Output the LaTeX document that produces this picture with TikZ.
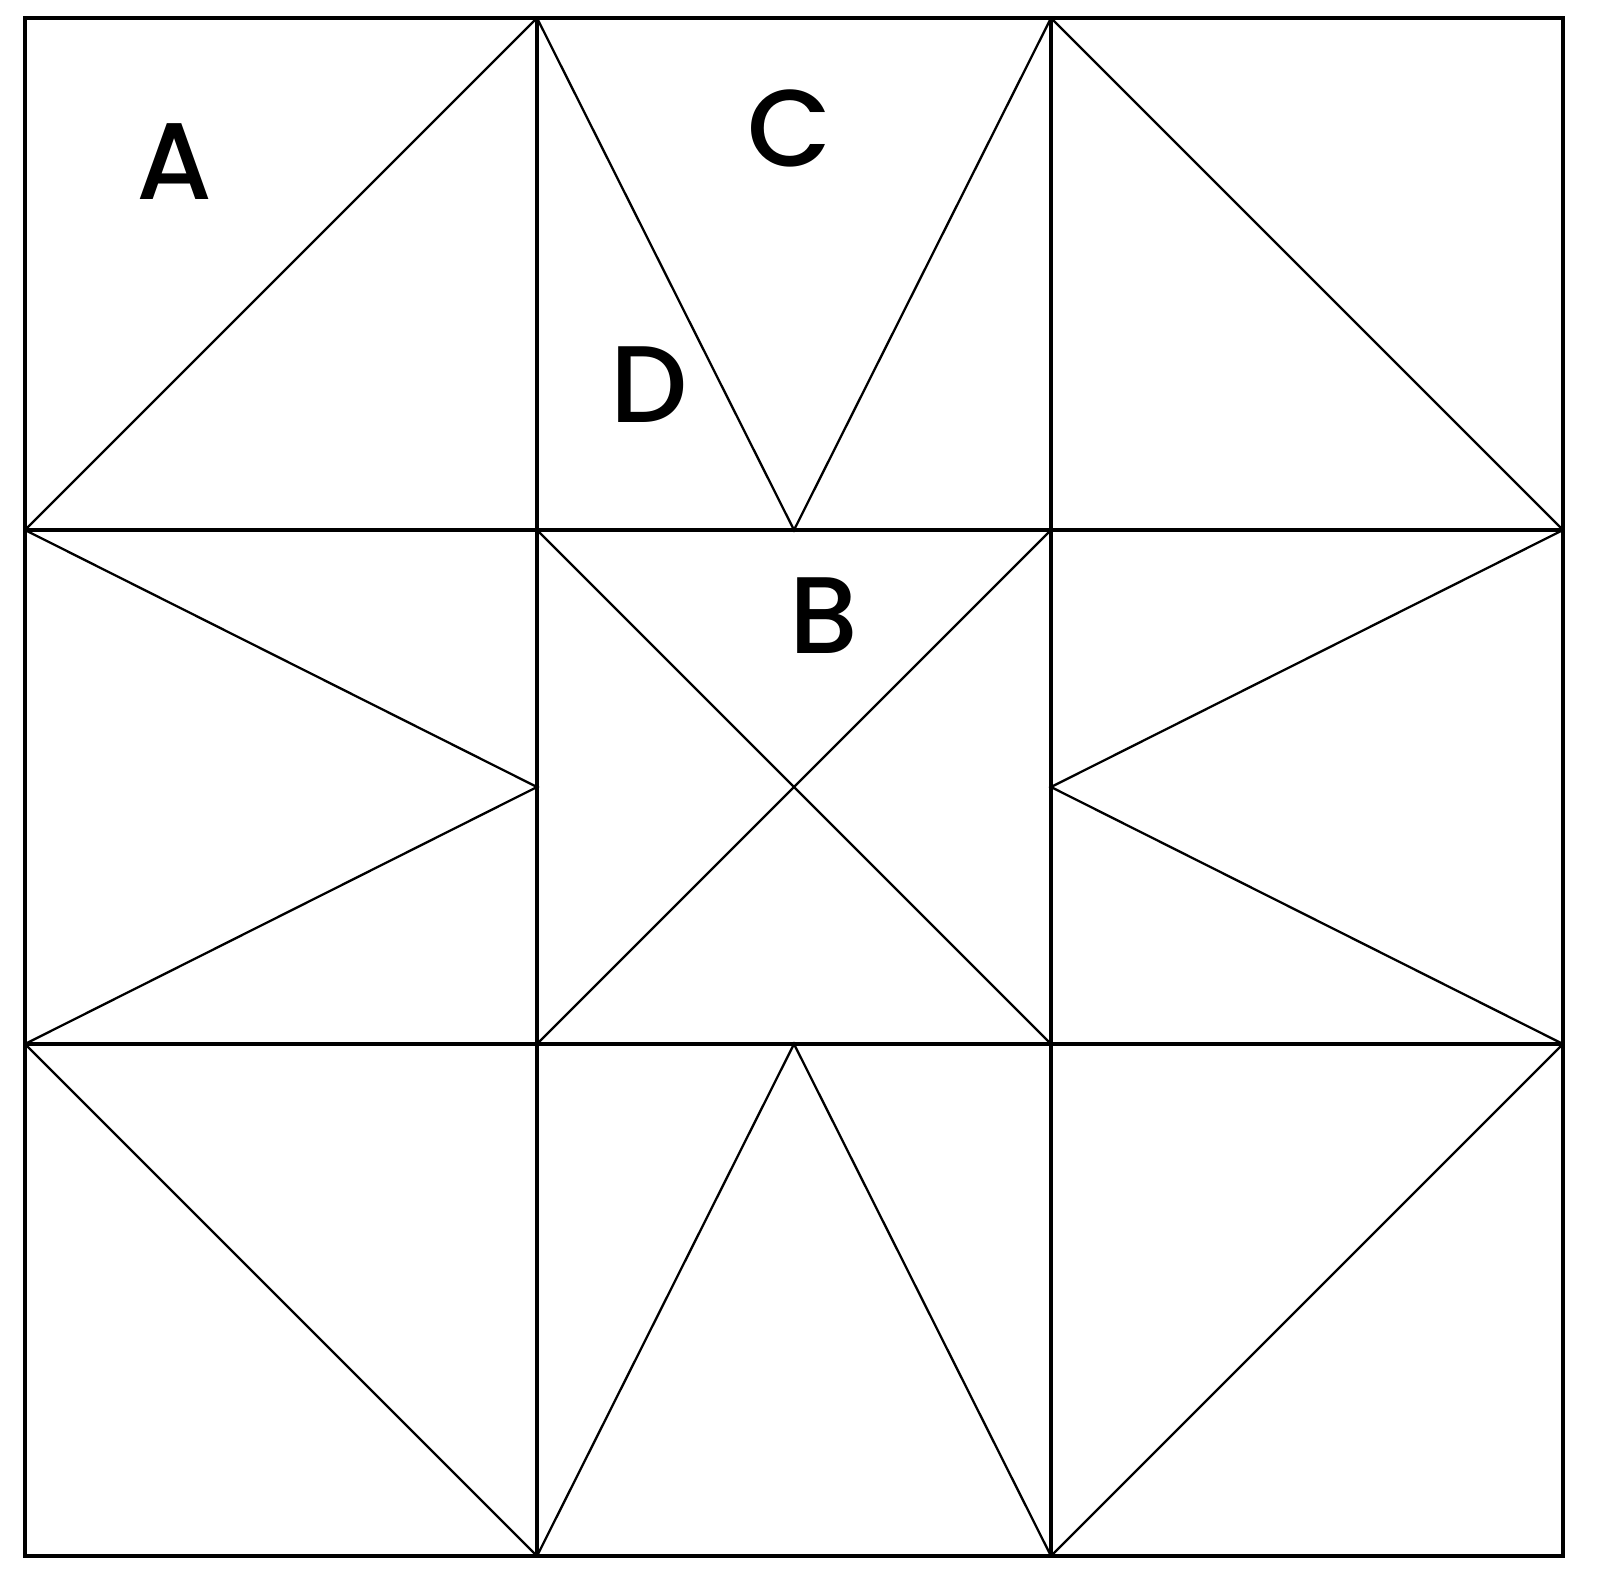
\documentclass[tikz,border=0pt]{standalone}
\usepackage{fontspec}
\setmainfont{Poppins}
\newfontfamily\labfont{Poppins}[UprightFont={* Medium}]
\begin{document}
\begin{tikzpicture}[x=0.01cm,y=-0.01cm,
  grid/.style={line width=0.95pt,black},
  diag/.style={line width=0.65pt,black},
  lab/.style={font=\labfont\fontsize{31}{33}\selectfont,inner sep=0pt}]
\useasboundingbox (0,0) rectangle (1600,1593);
% grid coordinates
\foreach \i/\x in {0/25,1/537,2/1051,3/1563}{
  \foreach \j/\y in {0/18,1/530,2/1044,3/1556}{
    \coordinate (p\i\j) at (\x,\y);
  }
}
\coordinate (tm) at (794,530);
\coordinate (bm) at (794,1044);
\coordinate (ml) at (537,787);
\coordinate (mr) at (1051,787);
% outer square and grid
\draw[grid] (p00) rectangle (p33);
\draw[grid] (p10) -- (p13);
\draw[grid] (p20) -- (p23);
\draw[grid] (p01) -- (p31);
\draw[grid] (p02) -- (p32);
% diagonals
\draw[diag] (p01) -- (p10);
\draw[diag] (p10) -- (tm) -- (p20);
\draw[diag] (p20) -- (p31);
\draw[diag] (p01) -- (ml) -- (p02);
\draw[diag] (p11) -- (p22);
\draw[diag] (p21) -- (p12);
\draw[diag] (p31) -- (mr) -- (p32);
\draw[diag] (p02) -- (p13);
\draw[diag] (p13) -- (bm) -- (p23);
\draw[diag] (p23) -- (p32);
% labels
\node[lab] (A) at (174,162) {A};
\node[lab] (C) at (790,128) {C};
\node[lab] (D) at (649,385) {D};
\node[lab] (B) at (824,616) {B};
\end{tikzpicture}
\end{document}
